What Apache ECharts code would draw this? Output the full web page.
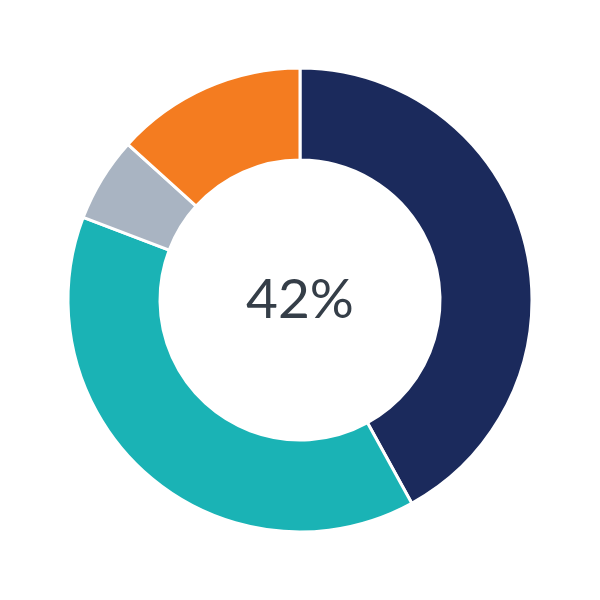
<!DOCTYPE html>
<html><head><meta charset="utf-8">
<script src="https://cdn.jsdelivr.net/npm/echarts@6/dist/echarts.min.js"></script>
<style>html,body{margin:0;padding:0;background:#fff}#c{width:600px;height:600px}</style>
</head><body><div id="c"></div>
<script>
const categories = ['A', 'B', 'C', 'D'];
const values = [42, 38.8, 5.9, 13.3];
const colors = ['#1b2a5c', '#1ab3b5', '#a9b4c2', '#f47c20'];
const centerLabel = '42%';
const chart = echarts.init(document.getElementById('c'));
chart.setOption({
  animation: false,
  graphic: [{type:'text', left:'center', top:'middle', style:{text:centerLabel, fontSize:55, fontFamily:'Lato', fill:'#353e48', textAlign:'center', textVerticalAlign:'middle'}}],
  series: [{
    type: 'pie', radius: [140, 232], center: [300, 300], startAngle: 90, clockwise: true,
    label: {show:false}, labelLine:{show:false},
    itemStyle: {borderColor:'#fff', borderWidth:3},
    data: categories.map((n,i)=>({name:n, value:values[i], itemStyle:{color:colors[i]}}))
  }]
});
</script></body></html>
